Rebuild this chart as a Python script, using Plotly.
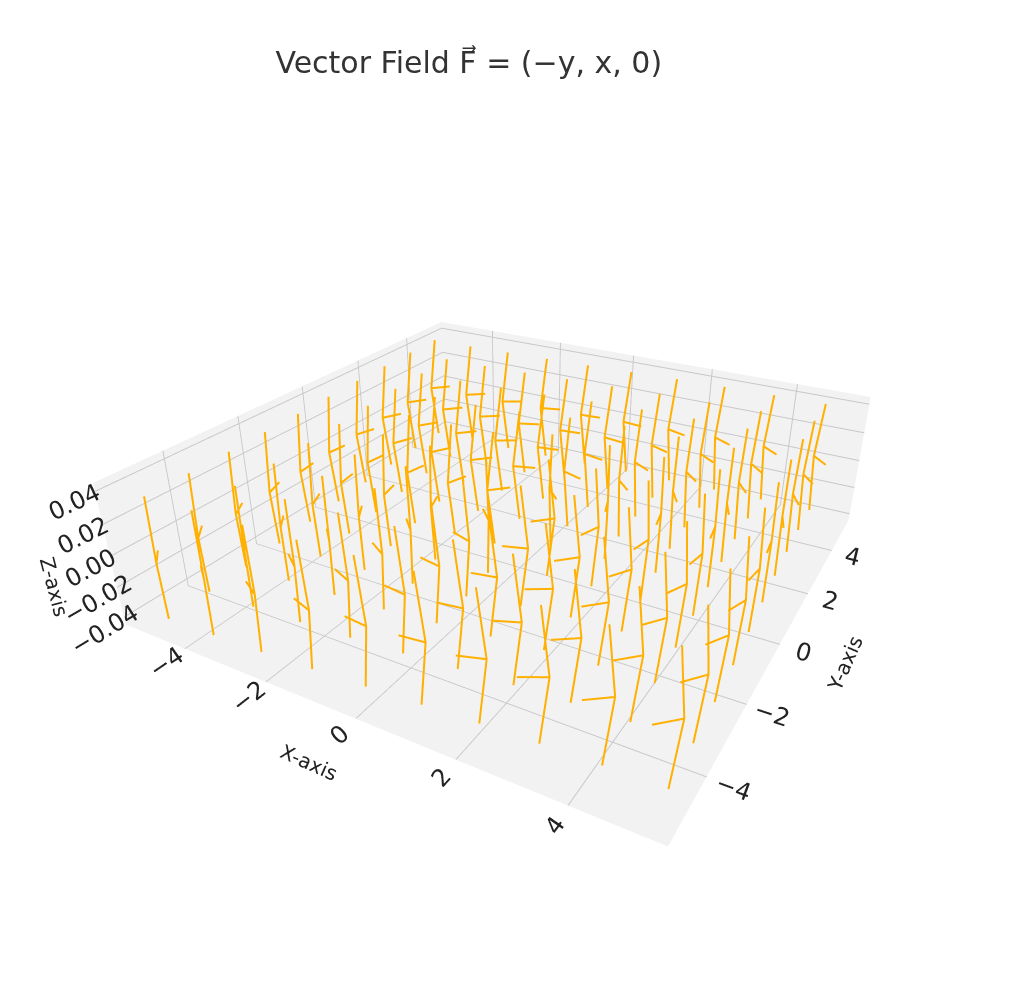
import numpy as np
import plotly.graph_objects as go

xs = [-5.0, -3.889, -2.778, -1.667, -0.556, 0.556, 1.667, 2.778, 3.889, 5.0]
ys = [-5.0, -3.889, -2.778, -1.667, -0.556, 0.556, 1.667, 2.778, 3.889, 5.0]
arrow_length = 0.5
head_ratio = 0.3
head_angle_deg = 15

X, Y = np.meshgrid(xs, ys)
U = -Y
V = X
px, py, pz = [], [], []
ca, sa = np.cos(np.radians(head_angle_deg)), np.sin(np.radians(head_angle_deg))
for x0, y0, u, v in zip(X.ravel(), Y.ravel(), U.ravel(), V.ravel()):
    n = np.hypot(u, v)
    if n == 0:
        continue
    dx, dy = u / n * arrow_length, v / n * arrow_length
    tx, ty = x0 + dx, y0 + dy
    px += [x0, tx, None]; py += [y0, ty, None]; pz += [0, 0, None]
    h = head_ratio * arrow_length
    for s in (1, -1):
        px += [tx, tx - h * ca * dx / arrow_length, None]
        py += [ty, ty - h * ca * dy / arrow_length, None]
        pz += [0, s * h * sa, None]

fig = go.Figure(go.Scatter3d(x=px, y=py, z=pz, mode="lines",
                             line=dict(color="#FFB000", width=4), showlegend=False))

def ax(t, **kw):
    return dict(showbackground=True, backgroundcolor="#F2F2F2", gridcolor="#C8C8C8",
                zeroline=False, tickfont=dict(size=17, color="#222"),
                title=dict(text=t, font=dict(size=20, color="#222")), **kw)

fig.update_layout(
    width=1024, height=988, paper_bgcolor="white",
    font=dict(family="DejaVu Sans", color="#333"),
    title=dict(text="Vector Field F⃗ = (−y, x, 0)", x=0.45, y=0.955, font=dict(size=30)),
    margin=dict(l=0, r=0, t=60, b=0),
    scene=dict(
        xaxis=ax("X-axis", range=[-5.6, 5.6], tickvals=[-4, -2, 0, 2, 4]),
        yaxis=ax("Y-axis", range=[-5.6, 5.6], tickvals=[-4, -2, 0, 2, 4]),
        zaxis=ax("Z-axis", range=[-0.045, 0.045],
                 tickvals=[-0.04, -0.02, 0, 0.02, 0.04], tickformat=".2f"),
        aspectmode="manual", aspectratio=dict(x=1.1, y=1.1, z=0.3),
        camera=dict(eye=dict(x=0.85, y=-1.5, z=0.9), center=dict(x=0, y=0, z=0)),
        domain=dict(x=[0, 1], y=[0.1, 0.96]),
    ),
)
fig.write_html("out.html")
